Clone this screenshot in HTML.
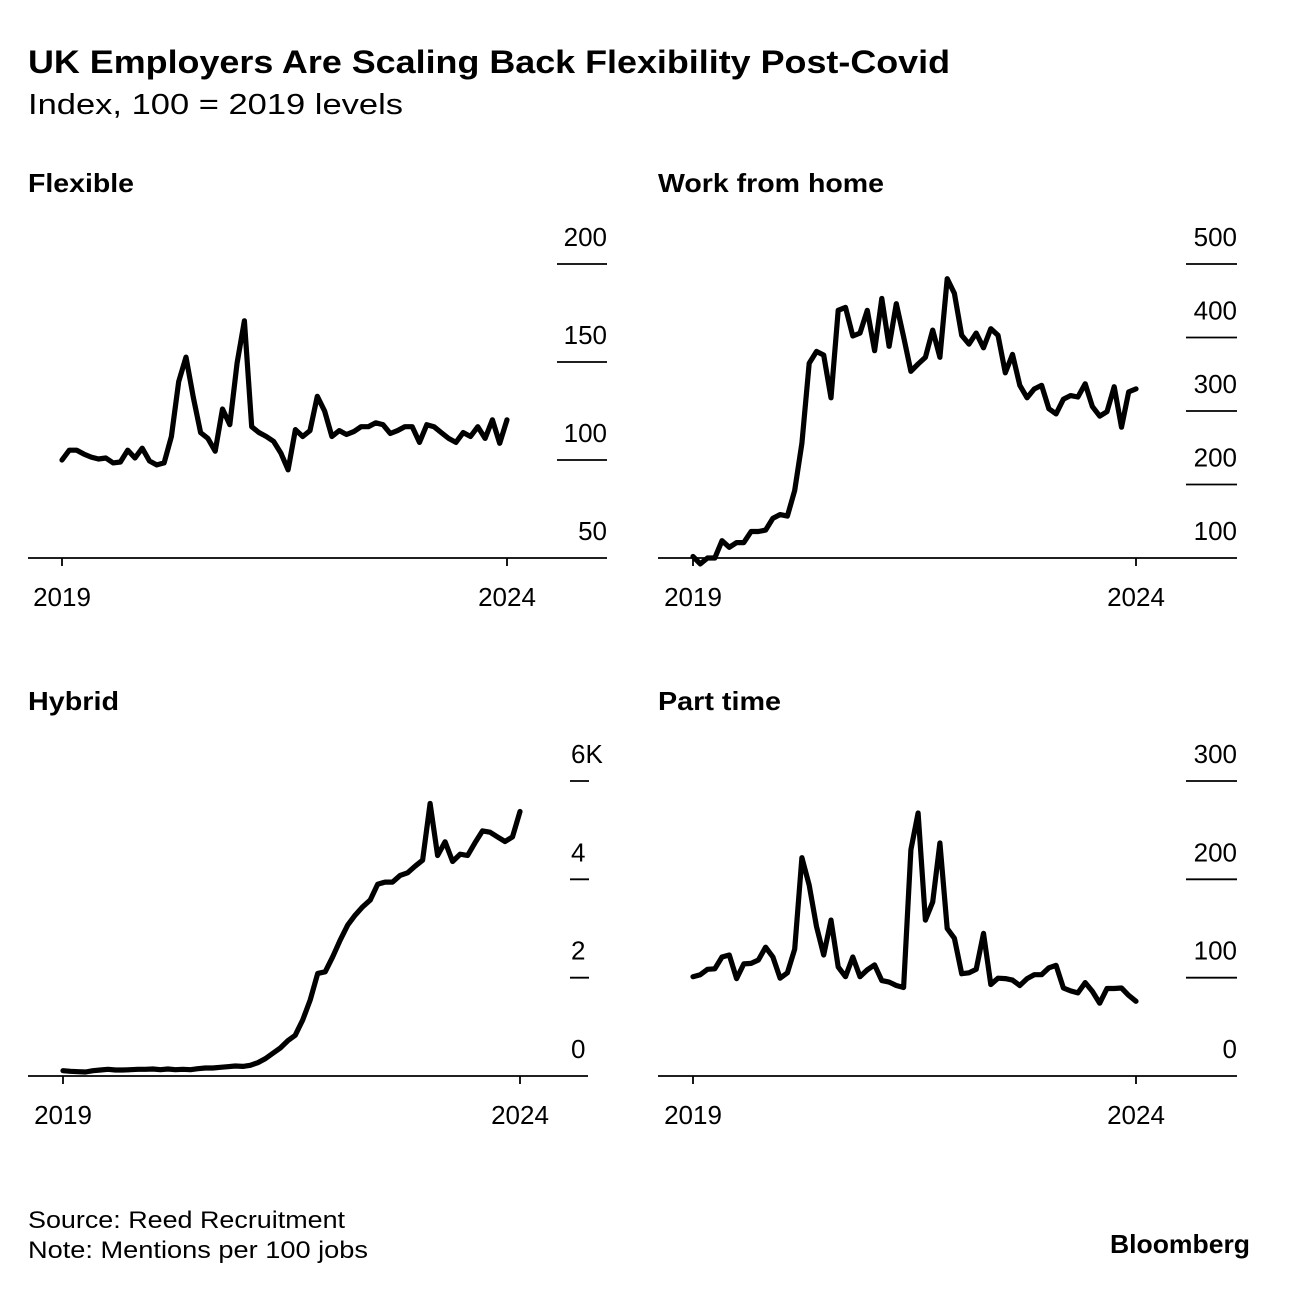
<!DOCTYPE html>
<html><head><meta charset="utf-8">
<style>
body{margin:0;background:#fff;width:1289px;height:1288px;overflow:hidden;font-family:"Liberation Sans",Arial,sans-serif;}
svg text{font-family:"Liberation Sans",Arial,sans-serif;}
</style></head>
<body>
<svg id="chart" width="1289" height="1288" viewBox="0 0 1289 1288" xmlns="http://www.w3.org/2000/svg">
<text x="28" y="73" font-size="32" font-weight="bold" fill="#000" textLength="922" lengthAdjust="spacingAndGlyphs">UK Employers Are Scaling Back Flexibility Post-Covid</text>
<text x="28" y="114" font-size="29" fill="#000" textLength="375" lengthAdjust="spacingAndGlyphs">Index, 100 = 2019 levels</text>
<text x="28" y="1228" font-size="24" fill="#000" textLength="317" lengthAdjust="spacingAndGlyphs">Source: Reed Recruitment</text>
<text x="28" y="1258" font-size="24" fill="#000" textLength="340" lengthAdjust="spacingAndGlyphs">Note: Mentions per 100 jobs</text>
<text x="1110" y="1253" font-size="26" font-weight="bold" fill="#000" textLength="140" lengthAdjust="spacingAndGlyphs">Bloomberg</text>
</svg>
<script>
const flexibleValues=[100,105,105,103,101.5,100.5,101,98.5,99,105,101,106,99.5,97.5,98.5,112,140,152.5,132,114,111,104.5,126,118,149.5,171,117,114,112,109.5,103.5,95,115.5,112,115,132.5,125,112,115,113,114.5,117,117,119,118,113.5,115,117,117,109,118,117,114,111,109,114,112,117,111,120.5,108.5,120.5];
const flexibleTicks=[200,150,100,50];
const wfhValues=[102,92,100,100,123.5,114.5,121,121,136,136,138,154,159,157,192,256,365,381,376,318,437,441,402,406,437,382,453,388,446,401,354,364,373,410,373,480,460,403,391,406,386,412,403,352,377,335,318,330,335,303,296,316,321,319,337,306,293,299,333,278,326,330];
const wfhTicks=[500,400,300,200,100];
const hybridValues=[0.108,0.095,0.088,0.081,0.108,0.122,0.136,0.122,0.122,0.129,0.136,0.136,0.142,0.129,0.142,0.129,0.136,0.129,0.149,0.163,0.163,0.176,0.19,0.203,0.196,0.217,0.271,0.352,0.461,0.569,0.718,0.827,1.138,1.545,2.087,2.12,2.425,2.764,3.069,3.272,3.442,3.577,3.902,3.943,3.943,4.079,4.133,4.268,4.39,5.542,4.485,4.763,4.363,4.512,4.485,4.743,4.986,4.959,4.864,4.77,4.864,5.379];
const hybridTicks=[6,4,2,0];
const hybridTickLabels=["6K","4","2","0"];
const partTimeValues=[101,103,108.5,109,121,123,99,114,114.5,118,131,121,99.5,105,129,222,194,152,123,158.5,111,101,121,101,108,113,97,95.5,92,90,230,267.5,158.5,177,237,150,140,104,105,108.5,145,93,99.5,99,97.5,92,99,103,103,110,112.5,89.5,86.5,84.5,95,86,74,89,89,89.5,82,76];
const partTimeTicks=[300,200,100,0];
const yearLabels=["2019","2024"];

const svg=document.getElementById('chart');
const NS='http://www.w3.org/2000/svg';
function mk(tag,attrs){const e=document.createElementNS(NS,tag);for(const k in attrs)e.setAttribute(k,attrs[k]);svg.appendChild(e);return e;}

function panel(cfg){
  const yS=v=>cfg.y0+(v-cfg.vmin)*(cfg.y1-cfg.y0)/(cfg.vmax-cfg.vmin);
  const n=cfg.values.length;
  const xS=i=>cfg.xa+i*(cfg.xb-cfg.xa)/(n-1);
  const t=mk('text',{x:cfg.tx,y:cfg.titleY,'font-size':26,'font-weight':'bold',textLength:cfg.titleW,lengthAdjust:'spacingAndGlyphs'});
  
  
  t.textContent=cfg.title;
  cfg.ticks.forEach((v,k)=>{
    const y=yS(v);
    if(k<cfg.ticks.length-1){
      const l=mk('line',{x1:cfg.tk0,x2:cfg.tk1,y1:y,y2:y,stroke:'#000','stroke-width':1.8});
      
      
    }
    const lb=mk('text',{x:cfg.lx,y:y-18,'font-size':26,'text-anchor':cfg.anchor});
    
    
    lb.textContent=cfg.labels?cfg.labels[k]:String(v);
  });
  const ax=mk('line',{x1:cfg.ax0,x2:cfg.ax1,y1:cfg.y0,y2:cfg.y0,stroke:'#000','stroke-width':1.8});
  
  
  [0,n-1].forEach((i,k)=>{
    const x=xS(i);
    const tk=mk('line',{x1:x,x2:x,y1:cfg.y0,y2:cfg.y0+8,stroke:'#000','stroke-width':1.8});
    
    
    const lb=mk('text',{x:x,y:cfg.y0+48,'font-size':26,'text-anchor':'middle'});
    
    
    lb.textContent=yearLabels[k];
  });
  const d=cfg.values.map((v,i)=>(i?'L':'M')+xS(i).toFixed(1)+','+yS(v).toFixed(1)).join('');
  const p=mk('path',{d:d,fill:'none',stroke:'#000','stroke-width':5.2,'stroke-linejoin':'round','stroke-linecap':'round'});
  
  
}
panel({key:'flexible',title:'Flexible',titleW:106,tx:28,titleY:192,values:flexibleValues,ticks:flexibleTicks,vmin:50,vmax:200,y0:558,y1:264,xa:62,xb:507,tk0:557,tk1:607,lx:607,anchor:'end',ax0:28,ax1:607});
panel({key:'work-from-home',title:'Work from home',titleW:226,tx:658,titleY:192,values:wfhValues,ticks:wfhTicks,vmin:100,vmax:500,y0:558,y1:264,xa:693,xb:1136,tk0:1186,tk1:1237,lx:1237,anchor:'end',ax0:658,ax1:1237});
panel({key:'hybrid',title:'Hybrid',titleW:91,tx:28,titleY:710,values:hybridValues,ticks:hybridTicks,labels:hybridTickLabels,vmin:0,vmax:6,y0:1076,y1:781,xa:63,xb:520,tk0:570,tk1:589,lx:571,anchor:'start',ax0:28,ax1:588});
panel({key:'part-time',title:'Part time',titleW:123,tx:658,titleY:710,values:partTimeValues,ticks:partTimeTicks,vmin:0,vmax:300,y0:1076,y1:781,xa:693,xb:1136,tk0:1186,tk1:1237,lx:1237,anchor:'end',ax0:658,ax1:1237});
</script>
</body></html>
